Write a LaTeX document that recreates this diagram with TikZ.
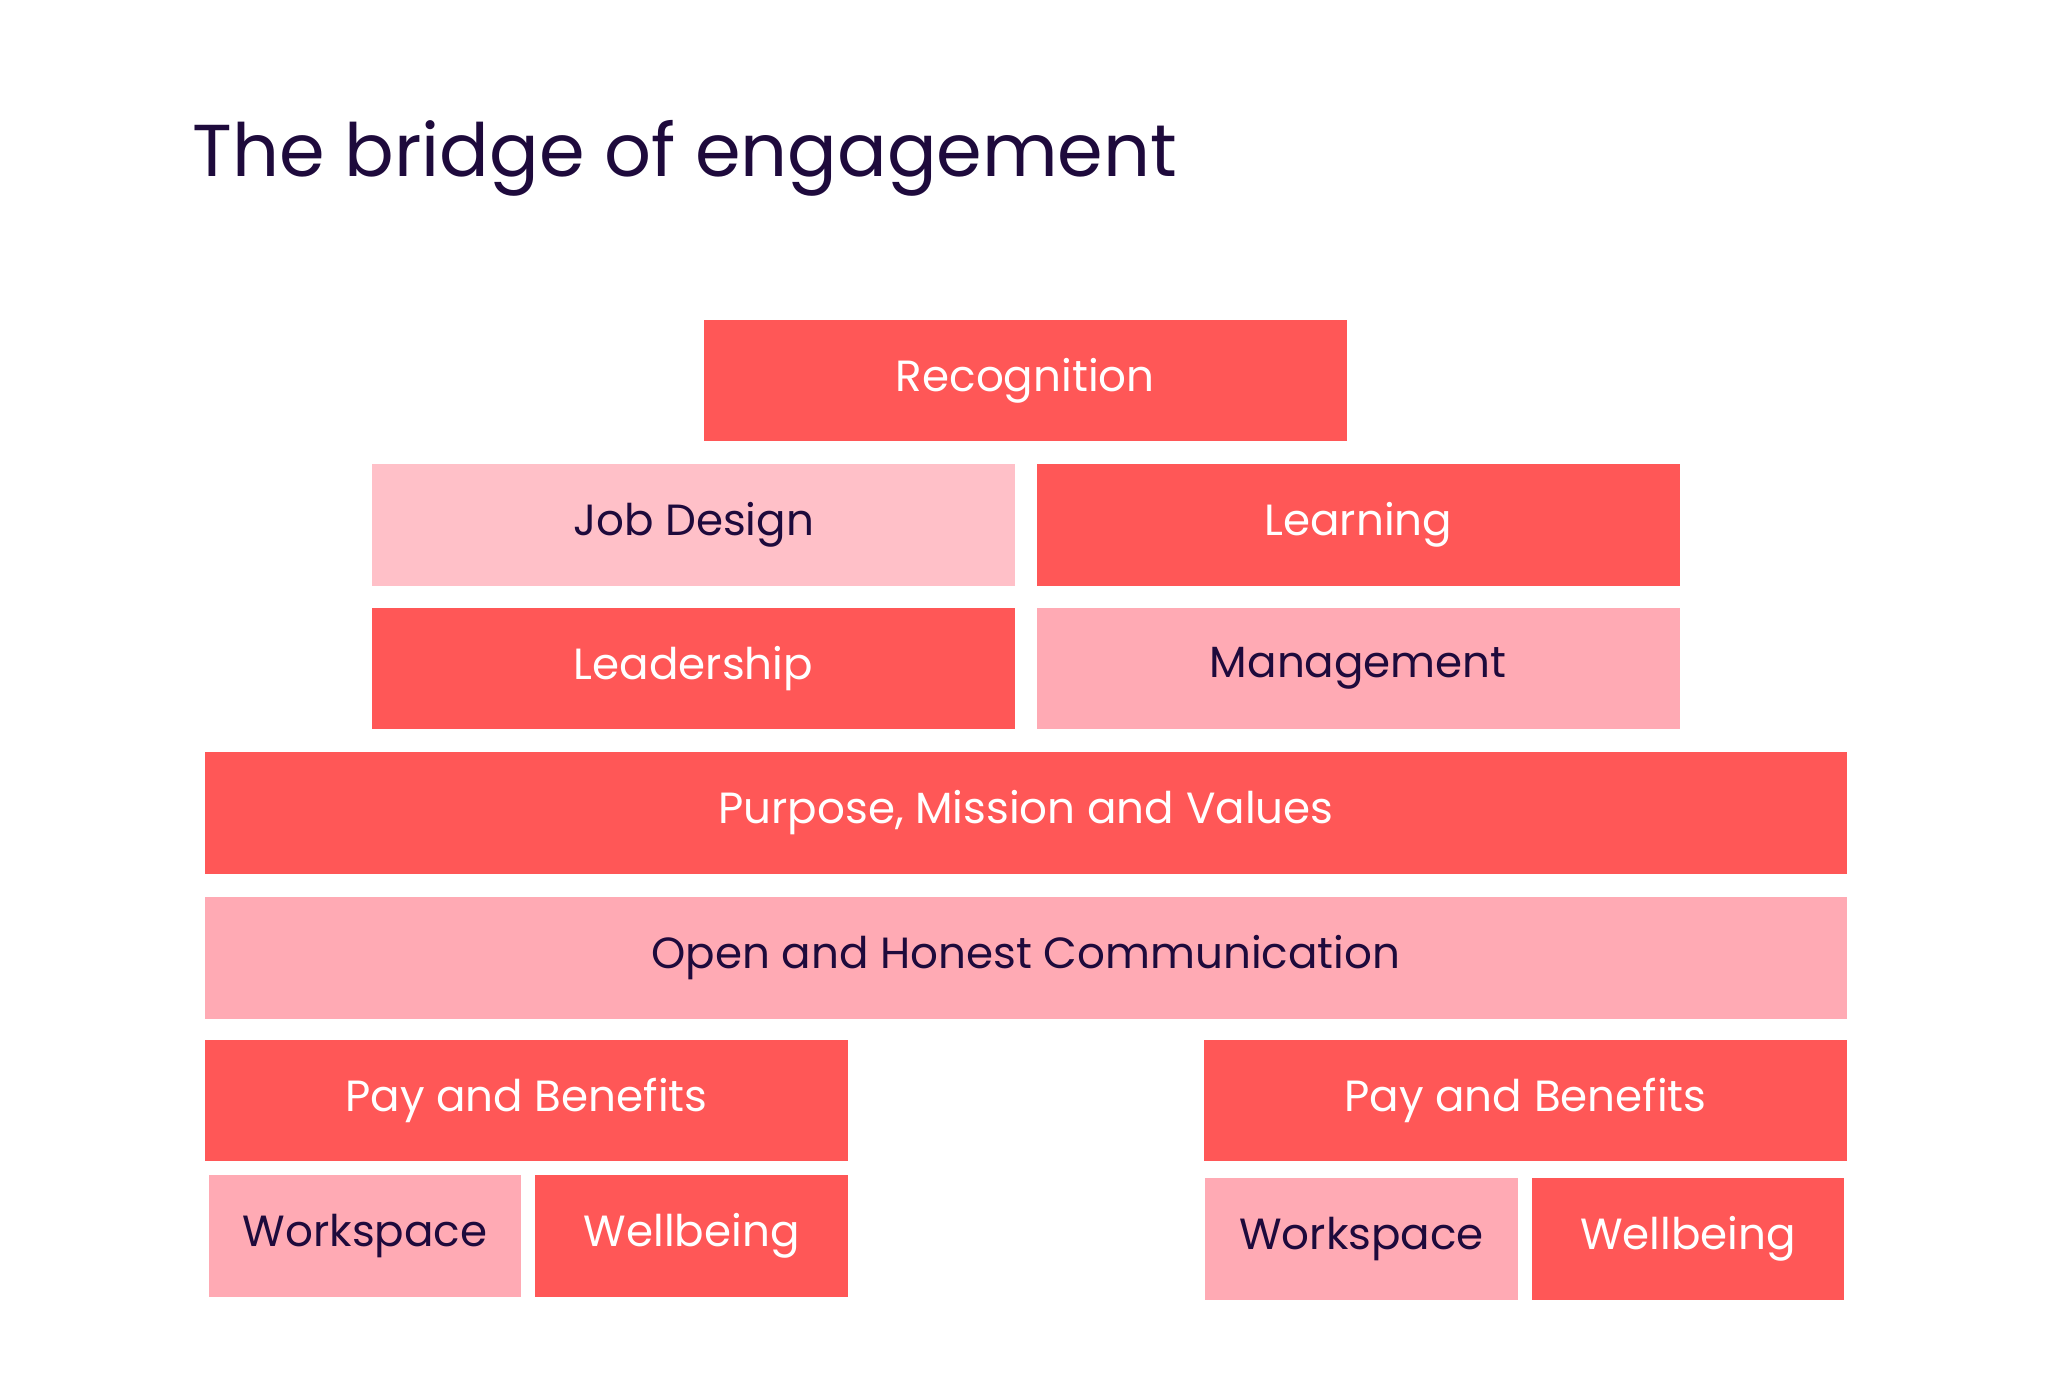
\documentclass[tikz,border=0pt]{standalone}
\usepackage{fontspec}
\setmainfont{Poppins}
\definecolor{coral}{RGB}{255, 87, 87}
\definecolor{rose}{RGB}{255, 170, 180}
\definecolor{blush}{RGB}{255, 192, 200}
\definecolor{ink}{RGB}{30, 10, 60}

\begin{document}
\begin{tikzpicture}
  [
    x=0.01cm, y=-0.01cm,
    brick/.style={inner sep=0pt, font=\fontsize{9.5pt}{11pt}\selectfont, minimum height=0.93cm},
    hot/.style={brick, fill=coral, text=white},
    soft/.style={brick, fill=rose, text=ink},
    pale/.style={brick, fill=blush, text=ink},
    wide/.style={minimum width=12.57cm},
    half/.style={minimum width=4.92cm},
    small/.style={minimum width=2.39cm}
  ]
  \useasboundingbox (0, 0) rectangle (1568, 1065);
  \node[anchor=base west, text=ink, font=\fontsize{16pt}{18pt}\selectfont] (title) at (135, 135) {The bridge of engagement};

  \node[hot, half] (recognition) at (785, 291.5) {Recognition};
  \node[pale, half] (jobdesign) at (531, 402) {Job Design};
  \node[hot, half] (learning) at (1040, 402) {Learning};
  \node[hot, half] (leadership) at (531, 512) {Leadership};
  \node[soft, half] (management) at (1040, 512) {Management};

  \node[hot, wide] (purpose) at (785.5, 622.5) {Purpose, Mission and Values};
  \node[soft, wide] (communication) at (785.5, 733.5) {Open and Honest Communication};

  \node[hot, half] (payleft) at (403, 842.5) {Pay and Benefits};
  \node[soft, small] (workleft) at (279.5, 946.5) {Workspace};
  \node[hot, small] (wellleft) at (529.5, 946.5) {Wellbeing};

  \node[hot, half] (payright) at (1168, 842.5) {Pay and Benefits};
  \node[soft, small] (workright) at (1042.5, 948.5) {Workspace};
  \node[hot, small] (wellright) at (1292.5, 948.5) {Wellbeing};
\end{tikzpicture}
\end{document}
